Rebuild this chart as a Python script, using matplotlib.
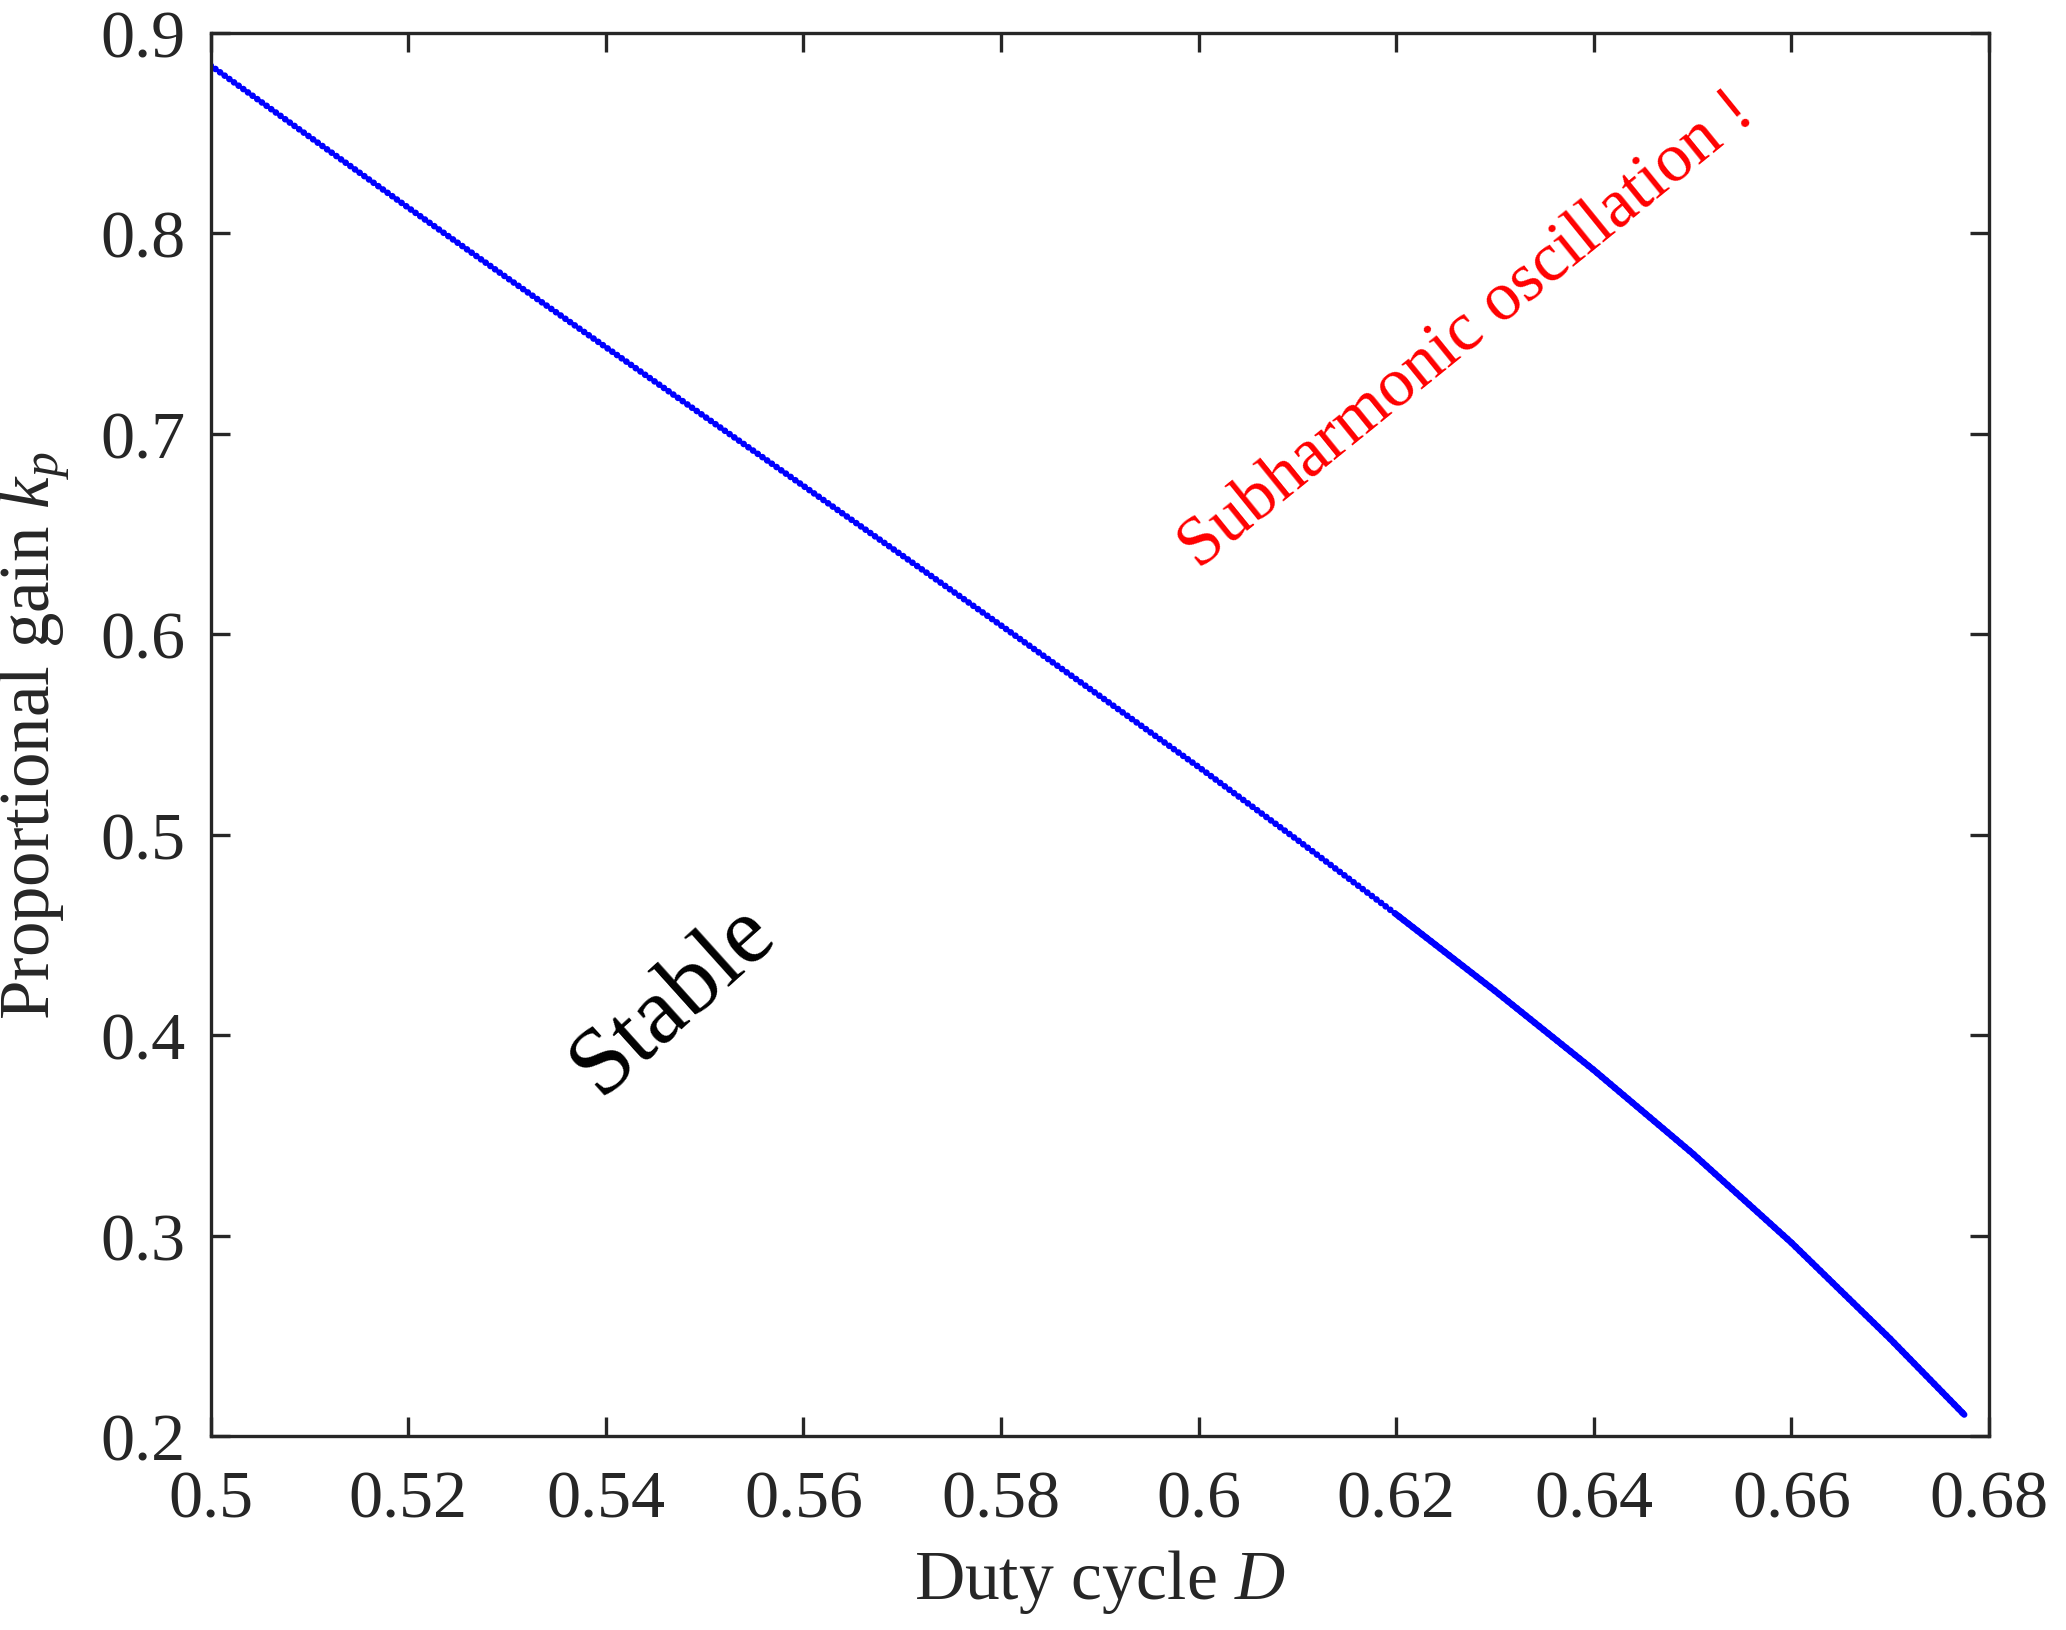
"""Stability boundary of the proportional gain against duty cycle."""
import matplotlib
matplotlib.use("Agg")
import matplotlib.pyplot as plt
import numpy as np

# boundary
duty = [0.50, 0.51, 0.52, 0.53, 0.54, 0.55, 0.56, 0.57, 0.58, 0.59,
        0.60, 0.61, 0.62, 0.63, 0.64, 0.65, 0.66, 0.67, 0.6775]
kp = [0.8837, 0.8482, 0.8128, 0.7778, 0.7432, 0.7086, 0.6740, 0.6393, 0.6044, 0.5692,
      0.5338, 0.4974, 0.4603, 0.4221, 0.3826, 0.3410, 0.2965, 0.2485, 0.2107]

x_ticks = [0.5, 0.52, 0.54, 0.56, 0.58, 0.6, 0.62, 0.64, 0.66, 0.68]
x_ticklabels = ["0.5", "0.52", "0.54", "0.56", "0.58", "0.6", "0.62", "0.64", "0.66", "0.68"]
y_ticks = [0.2, 0.3, 0.4, 0.5, 0.6, 0.7, 0.8, 0.9]
y_ticklabels = ["0.2", "0.3", "0.4", "0.5", "0.6", "0.7", "0.8", "0.9"]

AX_COLOR = "#262626"
CURVE_COLOR = "#0000ff"

plt.rcParams["font.family"] = ["Liberation Serif", "DejaVu Serif"]
plt.rcParams["mathtext.fontset"] = "custom"
plt.rcParams["mathtext.rm"] = "Liberation Serif"
plt.rcParams["mathtext.it"] = "Liberation Serif:italic"

fig = plt.figure(figsize=(10.33, 8.155), dpi=200)
ax = fig.add_axes([0.1020, 0.1189, 0.8607, 0.8603])

# the original is a dense dotted trace; dots merge into a band near the end
ax.plot(duty, kp, color=CURVE_COLOR, lw=2.4, ls=(0, (0.01, 0.85)),
        dash_capstyle="round")
d = np.array(duty)
tail = d >= 0.62
ax.plot(d[tail], np.array(kp)[tail], color=CURVE_COLOR, lw=2.3,
        solid_capstyle="round", solid_joinstyle="round")

ax.set_xlim(0.5, 0.68)
ax.set_ylim(0.2, 0.9)
ax.set_xticks(x_ticks)
ax.set_xticklabels(x_ticklabels)
ax.set_yticks(y_ticks)
ax.set_yticklabels(y_ticklabels)

ax.tick_params(direction="in", length=7, width=1.2, colors=AX_COLOR,
               labelsize=24.5, top=True, right=True, pad=9)
ax.tick_params(axis="x", pad=12)
for sp in ax.spines.values():
    sp.set_color(AX_COLOR)
    sp.set_linewidth(1.2)

ax.set_xlabel("Duty cycle $D$", fontsize=25, color=AX_COLOR, labelpad=6)
ax.set_ylabel("Proportional gain $k_p$", fontsize=25.5, color=AX_COLOR, labelpad=10)

ax.text(0.5468, 0.418, "Stable", fontsize=34.5, rotation=42,
        ha="center", va="center", color="black")
ax.text(0.6272, 0.752, "Subharmonic oscillation !", fontsize=25, rotation=39,
        ha="center", va="center", color="#ff0000")

fig.savefig("out.png", dpi=200)
plt.close(fig)
